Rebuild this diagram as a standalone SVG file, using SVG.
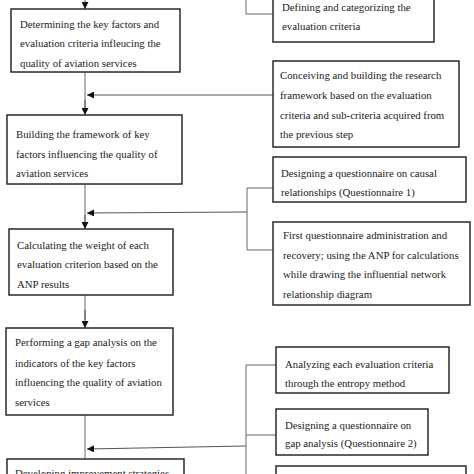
<svg xmlns="http://www.w3.org/2000/svg" width="474" height="474" viewBox="0 0 474 474">
<defs>
<marker id="ah" viewBox="0 0 10 10" refX="10" refY="5" markerWidth="7" markerHeight="7" markerUnits="userSpaceOnUse" orient="auto">
<path d="M0,0 L10,5 L0,10 z" fill="#111"/>
</marker>
<style>
.box{fill:#fff;stroke:#2a2a2a;stroke-width:1.5}
.t{font-family:"Liberation Serif","Times New Roman",serif;font-size:10.8px;fill:#222}
.c{fill:none;stroke:#666;stroke-width:1}
.a{fill:none;stroke:#555;stroke-width:1;marker-end:url(#ah)}
</style>
</defs>
<rect width="474" height="474" fill="#fff"/>
<g id="connectors">
<line class="a" x1="85" y1="0" x2="85" y2="9"/>
<line class="c" x1="85" y1="72" x2="85" y2="108"/>
<line class="a" x1="85" y1="100" x2="85" y2="115"/>
<line class="a" x1="273" y1="95" x2="87" y2="95"/>
<line class="c" x1="85" y1="184" x2="85" y2="222"/>
<line class="a" x1="85" y1="215" x2="85" y2="229"/>
<line class="a" x1="247" y1="212" x2="87" y2="213"/>
<path class="c" d="M273,188 H247 V250 H273"/>
<line class="c" x1="85" y1="288" x2="85" y2="320"/>
<line class="a" x1="85" y1="310" x2="85" y2="328"/>
<line class="c" x1="85" y1="415" x2="85" y2="459"/>
<line class="a" x1="246" y1="446" x2="87" y2="449"/>
<path class="c" d="M276,365 H246 V474"/>
<line class="c" x1="246" y1="435" x2="276" y2="435"/>
<path class="c" d="M246,0 V14 H273"/>
</g>
<g id="n1">
<rect class="box" x="11" y="9" width="169" height="63"/>
<text class="t" x="20" y="28">Determining the key factors and</text>
<text class="t" x="20" y="47">evaluation criteria infleucing the</text>
<text class="t" x="20" y="67">quality of aviation services</text>
</g>
<g id="n2">
<rect class="box" x="7" y="115" width="175" height="69"/>
<text class="t" x="16" y="138">Building the framework of key</text>
<text class="t" x="16" y="158">factors influencing the quality of</text>
<text class="t" x="16" y="177">aviation services</text>
</g>
<g id="n3">
<rect class="box" x="9" y="229" width="164" height="66"/>
<text class="t" x="17" y="249">Calculating the weight of each</text>
<text class="t" x="17" y="268">evaluation criterion based on the</text>
<text class="t" x="17" y="288">ANP results</text>
</g>
<g id="n4">
<rect class="box" x="6" y="328" width="167" height="87"/>
<text class="t" x="15" y="346">Performing a gap analysis on the</text>
<text class="t" x="15" y="367">indicators of the key factors</text>
<text class="t" x="15" y="386">influencing the quality of aviation</text>
<text class="t" x="15" y="406">services</text>
</g>
<g id="n5">
<rect class="box" x="7" y="459" width="177" height="30"/>
<text class="t" x="15" y="477">Developing improvement strategies</text>
</g>
<g id="r1">
<rect class="box" x="273" y="-5" width="161" height="47"/>
<text class="t" x="282" y="11">Defining and categorizing the</text>
<text class="t" x="282" y="30">evaluation criteria</text>
</g>
<g id="r2">
<rect class="box" x="273" y="61" width="186" height="86"/>
<text class="t" x="280" y="79">Conceiving and building the research</text>
<text class="t" x="280" y="99">framework based on the evaluation</text>
<text class="t" x="280" y="119">criteria and sub-criteria acquired from</text>
<text class="t" x="280" y="138">the previous step</text>
</g>
<g id="r3">
<rect class="box" x="273" y="157" width="193" height="45"/>
<text class="t" x="281" y="177">Designing a questionnaire on causal</text>
<text class="t" x="281" y="196">relationships (Questionnaire 1)</text>
</g>
<g id="r4">
<rect class="box" x="273" y="222" width="197" height="83"/>
<text class="t" x="283" y="239">First questionnaire administration and</text>
<text class="t" x="283" y="259">recovery; using the ANP for calculations</text>
<text class="t" x="283" y="278">while drawing the influential network</text>
<text class="t" x="283" y="298">relationship diagram</text>
</g>
<g id="r5">
<rect class="box" x="276" y="347" width="173" height="46"/>
<text class="t" x="285" y="368">Analyzing each evaluation criteria</text>
<text class="t" x="285" y="387">through the entropy method</text>
</g>
<g id="r6">
<rect class="box" x="276" y="409" width="152" height="46"/>
<text class="t" x="285" y="429">Designing a questionnaire on</text>
<text class="t" x="285" y="447">gap analysis (Questionnaire 2)</text>
</g>
<g id="r7">
<rect class="box" x="276" y="466" width="190" height="20"/>
</g>
</svg>
